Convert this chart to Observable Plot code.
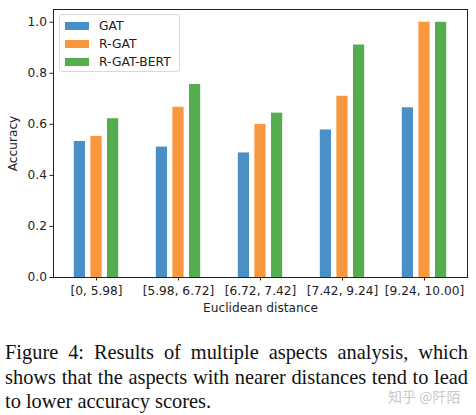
<!DOCTYPE html>
<html><head><meta charset="utf-8">
<script src="https://cdn.jsdelivr.net/npm/d3@7"></script>
<script src="https://cdn.jsdelivr.net/npm/@observablehq/plot@0.6"></script>
<style>
body{margin:0;background:#fff;width:476px;overflow:hidden;}
#wrap{position:relative;width:476px;height:318px;}
#legend{position:absolute;left:59px;top:14px;width:121px;height:58px;box-sizing:border-box;border:1px solid #d8d8d8;border-radius:3px;background:rgba(255,255,255,0.85);font-family:"DejaVu Sans";font-size:12.3px;color:#222;}
.item{position:absolute;left:5px;height:18px;display:flex;align-items:center;}
.sw{width:24px;height:8.5px;margin-right:10px;}
#caption{font-family:"Liberation Serif";font-size:20.4px;line-height:24.5px;margin:22px 8px 0 5px;color:#111;}
.jl{display:block;text-align:justify;text-align-last:justify;white-space:nowrap;}
.ll{display:inline-block;white-space:nowrap;}
#wm{position:absolute;left:388px;top:386px;font-family:"Noto Sans CJK SC";font-size:14px;color:#c8c8c8;}
</style></head>
<body>
<div id="wrap"><div id="chart"></div><div id="legend"></div></div>
<div id="caption"></div>
<div id="wm"></div>
<script>
const categories = ["[0, 5.98]","[5.98, 6.72]","[6.72, 7.42]","[7.42, 9.24]","[9.24, 10.00]"];
const series = ["GAT","R-GAT","R-GAT-BERT"];
const gat = [0.533,0.511,0.488,0.578,0.665];
const rgat = [0.553,0.667,0.600,0.710,1.0];
const rgatBert = [0.622,0.756,0.644,0.911,1.0];
const colors = ["#4a8fc6","#f8973d","#54ae50"];
const yTicks = [0,0.2,0.4,0.6,0.8,1.0];
const xLabel = "Euclidean distance";
const yLabel = "Accuracy";
const captionLines = ["Figure 4: Results of multiple aspects analysis, which", "shows that the aspects with nearer distances tend to lead", "to lower accuracy scores."];
const watermark = "知乎 @阡陌";

const values = [gat, rgat, rgatBert];
const rows = [];
series.forEach((s, i) => categories.forEach((c, j) => rows.push({series: s, category: c, value: values[i][j]})));

const band = 414 / 5, barW = 12, off = 16.6;
const marks = series.map((s, i) => Plot.barY(rows.filter(d => d.series === s), {
  x: "category", y: "value", fill: colors[i],
  insetLeft: band/2 - barW/2 + (i-1)*off,
  insetRight: band/2 - barW/2 - (i-1)*off
}));

const chart = Plot.plot({
  width: 476, height: 318,
  marginLeft: 53, marginRight: 9, marginTop: 9, marginBottom: 41,
  style: {fontFamily: "DejaVu Sans", fontSize: "12.2px", color: "#222", background: "#fff"},
  x: {type: "band", domain: categories, padding: 0, tickSize: 3.5, tickPadding: 5, label: xLabel, labelAnchor: "center", labelArrow: "none", labelOffset: 34},
  y: {domain: [0, 1.05], ticks: yTicks, tickFormat: d3.format(".1f"), tickSize: 3.5, tickPadding: 3, label: yLabel, labelAnchor: "center", labelArrow: "none", labelOffset: 45},
  marks: [...marks, Plot.frame({stroke: "#222", strokeWidth: 1})]
});
document.getElementById("chart").appendChild(chart);

const lg = document.getElementById("legend");
series.forEach((s, i) => {
  const it = document.createElement("div");
  it.className = "item";
  it.style.top = (2 + i*18) + "px";
  it.innerHTML = `<div class="sw" style="background:${colors[i]}"></div><span>${s}</span>`;
  lg.appendChild(it);
});
const cap = document.getElementById("caption");
captionLines.forEach((t, i) => {
  const sp = document.createElement("span");
  sp.className = i < captionLines.length - 1 ? "jl" : "ll";
  sp.textContent = t;
  cap.appendChild(sp);
});
document.getElementById("wm").textContent = watermark;
</script>
</body></html>
